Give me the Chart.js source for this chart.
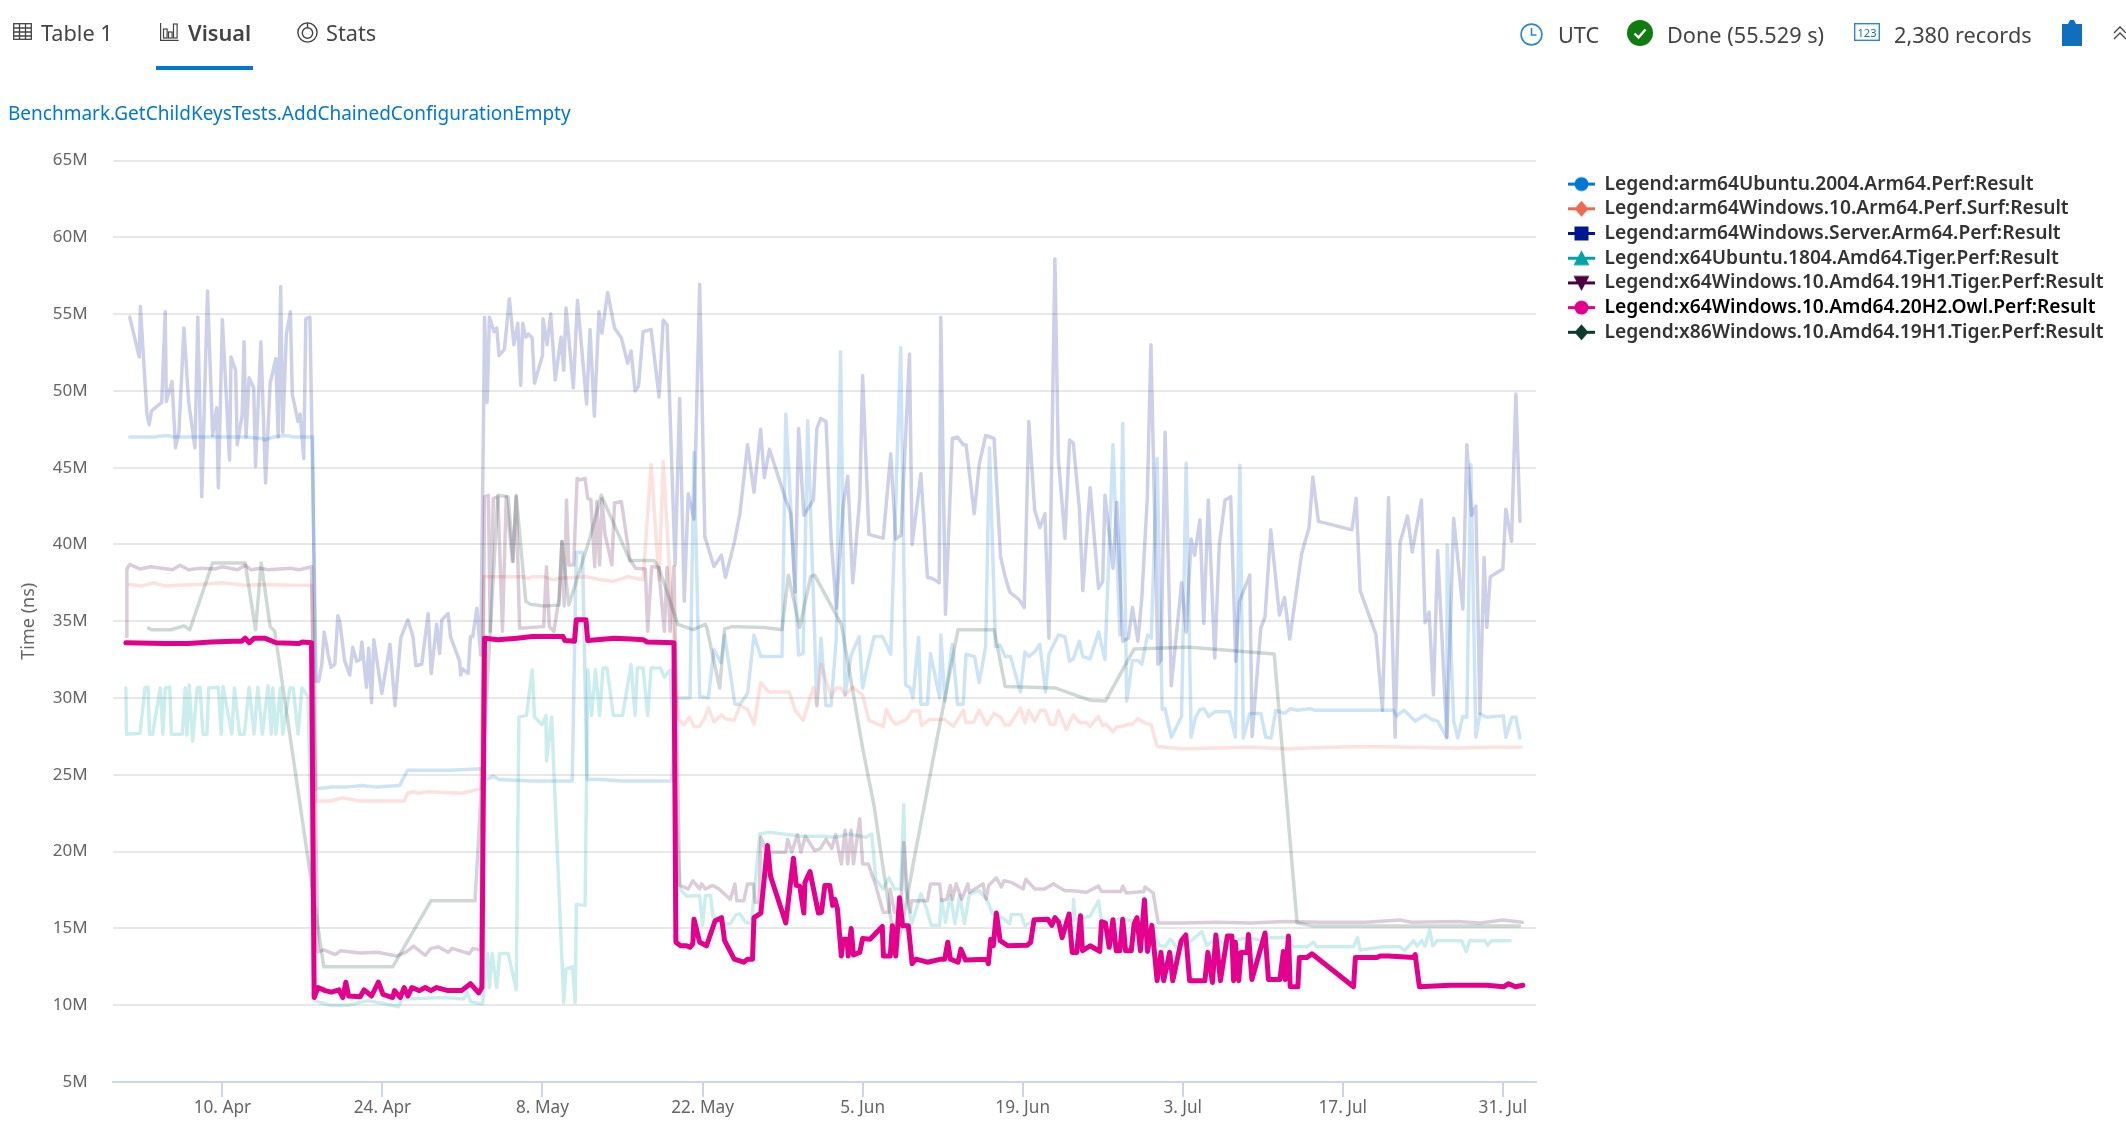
<!DOCTYPE html>
<html><head><meta charset="utf-8">
<script src="https://cdn.jsdelivr.net/npm/chart.js@4"></script>
<style>
html,body{margin:0;padding:0;background:#fff;overflow:hidden;width:2126px;height:1130px;font-family:"Noto Sans",sans-serif}
canvas#c{position:absolute;left:0;top:0}
.t{position:absolute;white-space:nowrap;line-height:1;color:#444;font-size:21.7px}
svg{position:absolute;overflow:visible}
</style></head><body>
<canvas id="c" width="2126" height="1130"></canvas>
<svg style="left:13px;top:23px" width="19" height="17" fill="none" stroke="#444" stroke-width="1.3"><rect x=".7" y=".7" width="17.6" height="15.6"/><path d="M.7 5h17.6M.7 9h17.6M.7 13h17.6M6.5 .7v15.6M12.5 .7v15.6"/></svg>
<div class="t" style="left:41px;top:22px">Table 1</div>
<svg style="left:160px;top:23px" width="19" height="18" fill="none" stroke="#444" stroke-width="1.2"><path d="M.6 0v17.4h18"/><rect x="3.5" y="6" width="3.6" height="9"/><rect x="8.5" y="9" width="3.6" height="6"/><rect x="13.5" y="1" width="3.6" height="14"/></svg>
<div class="t" style="left:188px;top:22px;font-weight:600">Visual</div>
<div style="position:absolute;left:156px;top:66px;width:97px;height:4px;background:#0078d4"></div>
<svg style="left:297px;top:22px" width="21" height="21" fill="none" stroke="#444" stroke-width="1.4"><circle cx="10.5" cy="10.5" r="9.6"/><circle cx="10.5" cy="11" r="5.2"/><path d="M10.5 1v4.5"/></svg>
<div class="t" style="left:326px;top:22px">Stats</div>
<svg style="left:1520px;top:23px" width="23" height="23" fill="none" stroke="#2b88d8" stroke-width="1.6"><circle cx="11.5" cy="11.5" r="10.4"/><path d="M11.5 5v7h5"/></svg>
<div class="t" style="left:1558px;top:24px">UTC</div>
<svg style="left:1627px;top:20px" width="26" height="26"><circle cx="13" cy="13" r="13" fill="#107c10"/><path d="M7.5 13.5l4 4 7-8" fill="none" stroke="#fff" stroke-width="2.4"/></svg>
<div class="t" style="left:1667px;top:24px">Done (55.529 s)</div>
<svg style="left:1854px;top:23px" width="26" height="18"><rect x=".7" y=".7" width="24.6" height="16.6" fill="none" stroke="#2b88d8" stroke-width="1.4"/><text x="13" y="13.5" text-anchor="middle" font-size="11" font-family="Noto Sans" fill="#106ebe">123</text></svg>
<div class="t" style="left:1894px;top:24px">2,380 records</div>
<svg style="left:2062px;top:20px" width="20" height="26"><path d="M0 4h6l2-4h4l2 4h6v22H0z" fill="#106ebe"/></svg>
<svg style="left:2114px;top:27px" width="14" height="14" fill="none" stroke="#444" stroke-width="1.3"><path d="M0 6l6-6 6 6M0 12l6-6 6 6"/></svg>
<div class="t" id="ttl" style="left:8px;top:104px;color:#0078d4;font-size:19px">Benchmark.GetChildKeysTests.AddChainedConfigurationEmpty</div>
<script>
// x = days after 10 Apr, y = time in millions of ns
const tickDays=[0,14,28,42,56,70,84,98,112];
const tickLabels=["10. Apr","24. Apr","8. May","22. May","5. Jun","19. Jun","3. Jul","17. Jul","31. Jul"];
const yTicksMin=5,yTicksMax=65,yStep=5;
const seriesNames=["Legend:arm64Ubuntu.2004.Arm64.Perf:Result","Legend:arm64Windows.10.Arm64.Perf.Surf:Result","Legend:arm64Windows.Server.Arm64.Perf:Result","Legend:x64Ubuntu.1804.Amd64.Tiger.Perf:Result","Legend:x64Windows.10.Amd64.19H1.Tiger.Perf:Result","Legend:x64Windows.10.Amd64.20H2.Owl.Perf:Result","Legend:x86Windows.10.Amd64.19H1.Tiger.Perf:Result"];
const seriesColors=["#0078d4","#ef6950","#00188f","#00a4a7","#4b003f","#e3008c","#0b3b2d"];
const markerShapes=["circle","diamond","square","triangle","triangleDown","circle","diamond"];
const arm64Ubuntu=[[-8.1,47],[-6,47],[-4.9,47.1],[-4.2,47],[-2,47],[0,47],[2,47],[3.5,46.9],[3.7,46.8],[4.5,47],[5.5,47.1],[6.3,47],[7.5,47],[7.9,47],[8.2,24.1],[9.5,24.2],[10.8,24.2],[12.2,24.3],[13.5,24.2],[15.5,24.3],[16.2,25.3],[18,25.3],[20,25.3],[22.6,25.4],[23.1,24.7],[23.7,24.9],[24.2,24.7],[27,24.6],[30.6,24.6],[30.96,39.5],[31.5,39.5],[31.9,24.7],[33,24.7],[35,24.6],[39.3,24.6],[39.7,30],[40.9,30],[41.25,46],[41.75,30.1],[42.5,30],[43,33.15],[43.6,32.3],[43.93,34.1],[44.83,29.6],[45.27,29.6],[45.94,30.3],[46.5,34.1],[47.1,32.7],[48.95,32.7],[49.28,48.5],[50.4,32.8],[50.8,32.9],[51.2,48.05],[52,29.5],[52.36,33.9],[52.8,29.5],[53.24,29.5],[53.7,33.9],[54.07,52.55],[54.47,30.2],[55,32.8],[55.7,34],[56,30.65],[56.55,32.55],[57,34],[57.75,34],[58.46,32.85],[59.33,52.8],[59.76,30.85],[60.17,30.65],[60.4,30],[60.9,33.95],[61.1,29.6],[61.67,29.6],[61.94,32.9],[62.74,30],[62.84,34.1],[63.2,29.8],[63.85,33.5],[64.3,29.6],[64.8,29.6],[65.05,32.85],[65.8,32.7],[66.2,31],[66.76,33.35],[67.1,46.3],[67.63,33.35],[68,33.45],[68.47,32.7],[68.94,32.7],[69.8,30.4],[70.2,33],[70.54,32.7],[71.05,33],[71.5,33.5],[72,30.4],[72.3,32.85],[73.12,34.1],[73.7,34],[74.1,32.4],[74.43,32.55],[74.96,33.7],[75.26,32.7],[75.9,32.55],[76.64,34.3],[77.2,32.5],[77.9,46.5],[78.5,34.1],[78.75,47.9],[79.1,29.8],[79.6,32.45],[80.08,32.45],[80.42,32.2],[80.92,34.1],[81.25,33.9],[81.76,45.6],[82.2,29.25],[82.46,29.3],[83,27.45],[83.9,28.8],[84.3,45.3],[84.74,27.45],[85.1,28.7],[85.5,29.25],[85.87,29.3],[86.28,28.8],[86.8,29.1],[88.1,29.1],[88.6,27.45],[89,45.15],[89.3,27.4],[89.86,29],[90.83,29],[91.26,27.45],[91.73,27.4],[92.14,29.2],[92.9,29],[93.4,29.3],[94,29.2],[95.14,29.3],[95.6,29.2],[102.43,29.2],[102.7,28.85],[103.36,29.2],[104.33,28.5],[105.2,28.9],[105.8,28.6],[106.3,28.5],[107.1,27.4],[107.13,39.97],[107.7,28.5],[108.06,27.4],[108.5,28.8],[108.85,28.75],[109.2,45.2],[109.64,27.45],[110,28.95],[110.6,28.75],[112.05,28.85],[112.26,27.45],[112.8,28.75],[113.14,28.75],[113.5,27.4]];
const arm64Win10=[[-8.1,37.4],[-7,37.3],[-6,37.5],[-5,37.3],[-4,37.35],[-2,37.4],[0,37.5],[2,37.35],[4,37.4],[6,37.35],[7.8,37.35],[8.2,23.3],[9.5,23.3],[10.5,23.5],[12,23.3],[13.5,23.3],[15.9,23.3],[16.2,23.8],[16.7,23.9],[17.1,23.8],[18,23.9],[21,23.8],[22.6,24.1],[22.86,37.9],[26.27,37.9],[26.8,37.8],[27.1,37.9],[28.1,37.9],[28.95,37.7],[29.45,37.8],[31.8,37.9],[33.15,37.7],[34.15,37.6],[35.5,37.9],[36.8,37.7],[37.5,45.2],[38.2,37.7],[38.56,45.4],[39.16,37.7],[39.9,28.65],[40.35,28.25],[40.85,28.75],[41.25,28.15],[41.75,28.15],[42.2,28.7],[42.5,29.35],[43,28.45],[43.66,28.9],[44,28.65],[44.77,28.55],[45.27,29.5],[45.94,29.25],[46.5,28.3],[47.08,31],[47.8,30.4],[49.6,30.4],[50.1,29.2],[50.8,28.55],[51.7,30.7],[52,29.5],[52.36,32.2],[53.24,30.1],[53.7,30.65],[54.1,30.65],[54.47,30.2],[55.14,30.7],[56,30.2],[56.55,28.55],[57.8,28.15],[58.06,29.25],[58.56,28.55],[58.9,28.3],[59.83,28.6],[60.33,29.15],[60.94,29.15],[61.17,28.2],[61.84,28.6],[63.18,28.6],[63.95,28.15],[64.8,29.2],[65.05,28.4],[65.7,28.4],[66.2,29.2],[66.86,28.25],[67.5,29],[68.07,28.75],[68.47,28.25],[68.87,28.25],[69.8,29.35],[70.2,28.4],[70.54,29.2],[71.05,28.5],[71.55,29.2],[71.95,29.2],[72.4,28.3],[72.82,28.3],[73.12,29.2],[73.82,27.95],[74.43,28.9],[74.96,28.4],[75.56,28.4],[75.9,28.15],[76.64,28.8],[77,28.2],[77.3,28.3],[77.9,27.8],[78.24,28.15],[78.75,28.15],[79.25,28.3],[79.6,28.3],[80.08,28.65],[80.6,28.4],[81.25,28.25],[81.76,26.85],[84,26.7],[87,26.75],[90,26.8],[93,26.7],[97,26.8],[100,26.85],[104,26.8],[108,26.75],[111,26.8],[113.6,26.8]];
const arm64Server=[[-8.1,54.8],[-7.27,52.2],[-7.17,55.5],[-6.6,48.5],[-6.4,47.8],[-6.2,48.7],[-5.3,49.25],[-5,55.15],[-4.9,49.3],[-4.4,50.6],[-4.1,46.3],[-3.8,47.3],[-3.36,54.1],[-2.95,49.3],[-2.4,46.3],[-2.15,54.8],[-1.8,43.1],[-1.3,56.5],[-0.85,47.1],[-0.5,48.9],[-0.35,43.7],[0,54.65],[0.63,45.5],[0.76,52.2],[1.16,51.35],[1.3,46.5],[1.73,48.4],[1.9,53.2],[2.07,47],[2.34,50.85],[2.74,50.2],[2.9,45.1],[3.37,53.2],[3.78,44],[4.18,50.5],[4.68,52.1],[4.88,47],[5.1,56.8],[5.28,47.3],[5.6,53.7],[5.95,55.15],[6.12,49.75],[6.62,48],[6.8,48.5],[7.12,45.6],[7.3,54.7],[7.66,54.8],[8.2,31.1],[8.43,31.1],[8.7,32.2],[8.9,34.3],[9.27,32.8],[9.5,32],[9.84,32.2],[10.1,35.35],[10.27,35],[10.7,32.4],[11.14,31.5],[11.4,33.3],[11.74,32.4],[12.05,32.5],[12.2,33.65],[12.6,30.7],[12.8,33.25],[13.05,29.7],[13.25,33.8],[13.95,30.3],[14.66,33.5],[15.1,29.5],[15.6,33.9],[16.23,35.1],[16.67,34],[16.93,32.1],[17.44,32.2],[18,35.5],[18.27,31.6],[18.74,34.8],[19,32.9],[19.2,35.1],[19.75,35.5],[19.95,34],[20.75,32.4],[20.85,31.5],[21,31.9],[21.5,31.6],[21.7,34],[21.9,34],[22.26,35.85],[22.6,32.8],[22.86,49.25],[22.93,54.8],[23.16,49.25],[23.36,54.8],[23.76,53.85],[24,54.1],[24.2,52.3],[24.67,52.7],[25.1,56],[25.5,53],[25.84,54.4],[26.1,50.35],[26.27,54.4],[26.54,53.5],[26.78,53.7],[27.1,53.45],[27.3,50.5],[28,52.3],[28.05,54.7],[28.4,53],[28.72,55],[29.12,50.7],[29.62,53.5],[29.86,51.35],[30.06,55.4],[30.7,50.2],[31.06,55.9],[31.86,49.15],[32.16,54],[32.54,48.35],[32.94,55.15],[33.2,53.75],[33.7,56.4],[34.3,54.1],[34.9,53.45],[35.45,51.8],[35.75,52.6],[36.1,50],[36.4,50.3],[36.8,53.85],[37.5,54],[38.2,49.6],[38.56,54.6],[38.9,54.3],[39.6,38.67],[40,49.5],[40.4,36.3],[40.75,43.3],[41.25,41.66],[41.75,56.95],[42.2,40.5],[43,38.56],[43.66,39.3],[44,37.85],[44.77,40.1],[45.27,42],[45.94,46.5],[46.5,43.4],[47.08,47.5],[47.4,44.35],[47.85,46.2],[49.2,43.1],[49.72,42],[50.1,36.9],[50.4,47.55],[50.86,41.9],[51.7,42.9],[52,47.55],[52.33,48.2],[52.8,48],[53.24,40.4],[53.7,35.85],[54.3,42.5],[54.7,44.45],[55.14,37.5],[55.75,43],[56,51],[56.55,40.66],[57.8,40.4],[58.46,45.9],[58.9,40.35],[59.36,40.6],[60.1,52.4],[60.33,40],[61.1,44.6],[61.67,37.85],[62.07,37.8],[62.7,37.5],[62.84,54.8],[63.25,35.45],[63.85,46.9],[64.3,47],[64.8,46.5],[65.05,46.5],[65.76,42],[66.2,45.2],[66.76,47.1],[67.5,46.9],[68.07,39.2],[68.47,37.9],[68.87,36.9],[69.7,36.4],[70.14,35.9],[70.54,48],[71.05,42.25],[71.5,41.1],[71.95,42],[72.3,33.9],[72.82,58.6],[73.12,45.6],[73.7,40.4],[74.1,46.8],[74.43,46.6],[74.96,42.35],[75.26,37],[75.9,43.7],[76.64,37.15],[77,37.6],[77.2,43.2],[77.9,38.45],[78.24,42.75],[78.75,33.7],[79.25,33.9],[79.6,35.9],[80.08,33.7],[80.42,36.5],[80.9,43],[81.22,53],[81.83,32.2],[82.1,32.5],[82.46,47.3],[83,30.8],[83.9,37.5],[84.3,34.3],[84.74,40.35],[85.04,39.3],[85.5,41.6],[85.84,34.85],[86.24,42.9],[86.8,32.6],[87.2,40],[87.7,42.9],[88.2,43.1],[88.64,32.4],[88.96,36.3],[89.86,38],[90.07,27.5],[90.83,34.55],[91.2,35.3],[91.7,40.95],[92.46,35.4],[92.9,36.55],[93.36,33.85],[94.4,39.4],[95.05,41.1],[95.38,44.4],[95.87,41.5],[98.8,40.95],[99.17,43],[99.52,37],[100.9,34.15],[101.47,29.2],[102,43.05],[102.58,27.45],[103,40.1],[103.66,41.85],[104.07,39.5],[104.88,42.9],[105.2,34.9],[105.55,35.6],[105.93,30.2],[106.3,39.6],[107.1,27.45],[107.7,41.7],[108.5,35.8],[108.85,46.5],[109.26,41.9],[109.64,42.5],[110,29],[110.36,39.15],[110.6,34.6],[110.9,37.9],[112,38.4],[112.26,42.3],[112.76,40.2],[113.14,49.8],[113.5,41.5]];
const x64Ubuntu=[[-8.44,30.65],[-8.38,27.65],[-7.2,27.7],[-6.77,30.65],[-6.5,30.7],[-6.37,27.65],[-6.1,27.65],[-5.43,30.65],[-5.2,27.65],[-5,30.65],[-4.6,30.7],[-4.46,27.65],[-3.5,27.65],[-3.25,30.65],[-3.1,27.6],[-2.9,30.85],[-2.6,27.2],[-2.2,30.65],[-1.95,30.7],[-1.7,27.65],[-1.35,27.65],[-1.2,30.65],[-0.35,30.7],[-0.1,27.65],[0.06,30.75],[0.83,27.65],[1.06,30.65],[1.5,27.65],[1.93,27.65],[2.34,30.7],[2.77,27.65],[3.1,30.7],[3.5,27.65],[4,30.8],[4.28,27.65],[4.41,30.65],[4.68,27.65],[5.08,30.65],[5.28,27.65],[5.92,30.65],[6.2,30.65],[6.62,27.65],[6.96,30.65],[7.5,30.1],[8.03,10.3],[9.37,10],[11.04,10],[12.7,10.3],[14.2,10.1],[15.4,9.9],[15.73,10.4],[19.4,10.5],[21.1,10.4],[21.42,10.8],[21.75,10.2],[22.76,10.1],[23.2,13.36],[23.36,11.15],[23.6,13.36],[24,11.15],[24.26,13.36],[25,13.36],[25.7,11],[25.94,28.76],[26.6,28.87],[27.1,31.84],[27.3,28.76],[27.95,28.27],[28.3,28.87],[28.35,25.9],[28.8,28.76],[29.86,10.17],[30.06,12.37],[30.63,12.5],[30.86,10.17],[30.96,16.55],[31.73,16.5],[31.96,31.84],[32.3,28.87],[32.64,31.84],[33,28.87],[33.3,31.95],[33.64,31.95],[34.2,28.87],[35,28.87],[35.75,32.17],[36.1,28.87],[36.3,31.95],[36.8,31.95],[37.2,28.87],[37.5,31.95],[38.33,31.95],[38.66,31.36],[39.16,31.84],[40,17.57],[40.6,17.1],[41.75,17.15],[42,15.2],[42.25,17.15],[42.7,17.15],[42.9,15.8],[43.93,15.3],[44.43,15.3],[44.93,15.9],[45.27,15.95],[45.77,15.4],[46.27,15.3],[47,21.15],[47.78,21.27],[49.6,21.1],[50.6,21],[51.46,21],[52.47,21],[53.64,20.94],[54.8,21.15],[56.3,20.94],[56.8,21.15],[57.15,18.2],[57.8,17.57],[58.3,18.3],[58.8,17.57],[59.33,17.57],[59.6,23.05],[59.76,17.57],[60.27,15.3],[60.5,15.8],[61.1,17.25],[61.5,16.5],[62,15.2],[62.74,15.2],[62.9,16.9],[63.25,15.4],[63.68,17.15],[64.08,15.3],[64.5,17.15],[64.9,15.3],[65.35,17.25],[66.2,17.45],[66.86,16.9],[67.36,15.95],[68.2,15.7],[68.87,15.3],[69,15.9],[69.87,15.9],[70.2,15.2],[71.05,15.5],[72.2,15.6],[72.9,15.5],[74.4,15.5],[74.45,16.9],[74.56,15.6],[75.9,15.8],[76.64,16.8],[76.9,15.4],[78.58,15.6],[80.6,15.4],[81.5,14.75],[81.93,13.9],[82.43,13.8],[82.93,14.3],[83.43,13.8],[84.27,13.9],[85.67,14.8],[86.1,13.9],[86.9,14.3],[87.95,13.9],[88.96,14.3],[89.8,14.4],[91,14.2],[91.65,14.4],[93.1,14.4],[93.7,13.8],[94.86,13.8],[95.44,14.1],[95.73,13.8],[98.94,13.8],[99.29,14.4],[99.52,13.6],[101.56,13.8],[103,13.8],[103.4,13.55],[104.2,14.2],[104.5,13.85],[104.92,14.2],[105.2,13.85],[105.6,14.9],[105.88,13.85],[106.23,14.2],[108.4,14.2],[108.8,13.5],[109.1,14.2],[110.46,14.2],[110.66,13.9],[111,14.2],[112.65,14.2]];
const x64Win19H1=[[-8.4,34],[-8.35,38.4],[-8.1,38.7],[-7.2,38.4],[-6.27,38.55],[-4.36,38.35],[-3.7,38.65],[-2.95,38.35],[-1.95,38.45],[-0.68,38.4],[0,38.55],[1.33,38.35],[2,38.65],[2.5,38.35],[3.34,38.45],[4,38.35],[5.95,38.45],[6.7,38.35],[7.8,38.55],[8.36,13.47],[8.87,13.6],[9.87,13.3],[10.37,13.55],[12.05,13.4],[13.55,13.45],[15.23,13.2],[16.06,13.45],[16.73,13.85],[17.74,13.25],[18.24,13.7],[18.9,13.8],[19.75,13.45],[20.1,13.7],[21.6,13.35],[21.92,13.7],[22.6,13.6],[22.93,43.1],[23.27,43.2],[23.43,34.35],[23.7,43],[24.1,43.1],[24.5,34.35],[24.83,43.1],[25.37,38.9],[25.7,43.1],[26,34.55],[28.1,34.65],[28.35,38.55],[28.6,34.65],[29,34.35],[29.45,36.5],[29.7,40.2],[29.9,36],[30.1,42.9],[30.3,38.67],[30.73,38.67],[31.03,44.3],[31.3,44.2],[31.73,44.3],[31.96,43],[32.23,42.9],[32.57,38.55],[32.74,42.8],[33,38.67],[33.2,43],[33.47,40.65],[34.07,38.67],[34.3,42.7],[34.9,42.8],[35.65,39],[36.15,38.45],[37,38.4],[37.2,34.35],[37.55,38.55],[38.15,38.5],[38.66,34.35],[38.9,38.5],[39.16,34.35],[39.5,38.55],[40,17.8],[40.75,17.57],[41.15,18.1],[41.75,17.57],[41.92,17.9],[42.25,17.57],[42.9,17.8],[43.43,17.57],[44.43,16.9],[44.83,17.9],[45,16.8],[45.6,16.8],[45.94,17.9],[46.44,17.9],[46.6,16.7],[46.94,16.7],[47.1,20.94],[47.6,19.96],[49.28,19.96],[49.45,20.8],[49.8,19.96],[50.3,21.1],[50.6,19.96],[51,21],[51.8,20.07],[52.3,20.2],[52.8,20.8],[53.3,20.2],[53.64,21.1],[54.14,19.2],[54.47,21.4],[54.7,19.2],[55,21.4],[55.2,19.2],[55.75,22.14],[56,19.2],[56.5,19.2],[57.15,17.8],[57.8,16.05],[58.3,16.05],[58.4,17.57],[58.8,16.05],[59.33,16.05],[59.6,20.6],[59.9,17.35],[60.17,16.05],[60.27,16.8],[61.67,16.8],[61.94,17.9],[62.74,17.9],[62.9,16.8],[63.35,16.9],[63.68,17.8],[63.85,16.9],[64.18,17.9],[64.68,16.9],[65.2,17.9],[65.35,17.35],[66.53,17.9],[66.8,16.9],[67.03,17.8],[67.7,18.3],[68.13,17.7],[68.37,18.1],[69,18],[70.04,17.57],[70.28,18.2],[71.05,17.57],[71.9,17.57],[72.7,17.9],[73.7,17.45],[74.4,17.45],[75.56,17.35],[76.64,17.75],[76.9,17.4],[78.58,17.4],[78.75,17.75],[79.08,17.3],[80.6,17.4],[80.7,17.7],[81.42,17.3],[81.86,15.35],[84,15.35],[87,15.4],[90,15.35],[93,15.45],[96,15.4],[100,15.4],[103,15.55],[104,15.4],[108,15.45],[110,15.35],[112,15.55],[113.7,15.4]];
const x64WinOwl=[[-8.44,33.6],[-5,33.55],[-3,33.55],[-1,33.65],[1,33.7],[1.7,33.7],[2,33.9],[2.34,33.6],[2.8,33.9],[3.7,33.9],[4.7,33.6],[6.7,33.55],[7,33.65],[7.8,33.6],[8.03,10.5],[8.36,11.15],[9,10.95],[9.54,10.85],[10.2,11],[10.54,10.5],[10.8,11.5],[11.04,10.6],[12.05,10.55],[12.4,11],[13.05,10.6],[13.65,11.5],[14.05,10.7],[14.9,10.5],[15.06,10.95],[15.56,10.5],[15.9,11.15],[16.23,10.6],[16.57,11.15],[17.24,10.95],[17.74,11.15],[18.24,10.95],[18.74,11.15],[19.75,10.95],[20.92,10.95],[21.7,11.4],[22.42,10.8],[22.7,11.15],[22.93,33.9],[24.1,33.8],[25.77,33.9],[27.1,34],[29.8,34],[29.95,33.75],[30.8,33.7],[30.96,35.1],[31.8,35.1],[31.96,33.75],[34.3,33.9],[35.8,33.85],[36.8,33.8],[37.15,33.65],[39.5,33.6],[39.67,14.1],[40.08,13.87],[40.6,13.87],[40.9,13.77],[41.15,14],[41.25,15.6],[41.75,14.1],[42.35,13.87],[43.1,15.5],[43.66,15.7],[43.93,14.2],[44.77,13],[45.6,12.8],[45.94,13],[46.37,13],[46.5,15.7],[47.1,16],[47.68,20.4],[47.95,18.4],[49.28,15.35],[49.95,19.57],[50.2,17.8],[50.5,17.75],[50.86,16],[50.96,18],[51.4,18.7],[52.13,16],[52.4,16.05],[52.7,17.8],[53.13,17.8],[53.37,16.5],[53.57,16.9],[53.8,16.27],[54.14,13.2],[54.3,14.3],[54.64,14.3],[54.74,13.2],[55,15],[55.2,13.27],[55.75,13.44],[56,14.35],[56.65,14.3],[57.72,15.13],[57.82,13.2],[58.42,13.2],[58.6,15.18],[58.9,13.2],[59.23,17],[59.5,15.18],[60,15.18],[60.33,12.7],[60.67,13],[61.67,12.8],[62.84,13],[63.18,13],[63.45,14.1],[63.68,13],[64.35,12.8],[64.6,13.65],[65,12.95],[66.86,13],[67,12.7],[67.2,14.3],[67.43,13.87],[67.7,16],[68.03,14.2],[68.7,13.87],[70.38,13.9],[70.7,14.1],[71,15.57],[72.2,15.6],[72.55,15.2],[72.82,15.7],[73.15,15.4],[73.45,14.4],[74.06,15.94],[74.33,13.44],[74.73,13.44],[75.06,15.83],[75.23,13.55],[75.9,13.87],[76.74,13.5],[76.9,15.44],[77.24,15.35],[77.57,13.77],[77.9,15.57],[78.18,13.55],[78.5,13.55],[78.75,15.6],[79,13.55],[79.5,13.55],[79.75,15.3],[80,15.7],[80.3,13.55],[80.65,16.87],[80.92,13.5],[81.3,15.2],[81.76,11.6],[82.1,13.44],[82.33,11.6],[82.86,13.44],[83.13,11.6],[83.87,14.2],[84.27,14.57],[84.6,11.6],[85.6,11.6],[85.94,11.6],[86.2,13.44],[86.6,11.48],[86.9,14.57],[87.3,11.6],[87.9,14.5],[88.3,14.5],[88.45,11.6],[88.6,14.1],[88.9,11.6],[89.1,13.44],[89.63,13.44],[89.75,14.6],[90.05,11.67],[91.2,14.7],[91.5,11.67],[92.5,11.67],[92.8,13.5],[92.96,11.67],[93.25,14.5],[93.4,11.2],[94.07,11.2],[94.2,13.1],[94.86,13.1],[95.3,13.35],[98.94,11.2],[99.1,13.1],[100.98,13.1],[101.27,13.2],[102,13.2],[104.2,13.1],[104.33,13.3],[104.7,11.2],[107.4,11.3],[110.6,11.3],[112.06,11.2],[112.5,11.4],[113.1,11.2],[113.75,11.3]];
const x86Win19H1=[[-6.47,34.55],[-6.2,34.45],[-4.5,34.45],[-3.36,34.7],[-2.85,34.45],[-0.85,38.8],[2,38.8],[2.9,34.45],[3.4,38.8],[4.18,34.65],[4.58,34.35],[8.87,12.5],[12.4,12.5],[14.9,12.5],[18.24,16.8],[22.1,16.8],[23.43,34.35],[24.1,43.2],[25,43.1],[25.44,38.9],[25.7,43.2],[26.54,36.3],[26.94,36.1],[28.1,36],[29.45,36.05],[29.7,40.2],[30.3,36.05],[32.14,40.4],[33.14,43.2],[35.65,38.95],[37.76,38.95],[38.15,38.55],[39.84,34.8],[41.17,34.45],[42.25,34.8],[42.4,34.5],[43.5,30.65],[43.93,34.5],[44.6,34.65],[47.44,34.6],[48.95,34.45],[49.5,38],[50.5,34.6],[51.46,37.9],[51.8,38],[54.14,34.8],[56,26.75],[57,23],[57.8,18.9],[58.6,14.96],[59,13.66],[59.66,16],[60.5,19.5],[61.5,23.4],[62.34,26.7],[64.35,34.45],[67.5,34.45],[68.47,30.75],[72.9,30.65],[75.9,29.85],[77.24,29.8],[79.75,33.2],[84.27,33.3],[84.65,33.3],[92,32.87],[94,15.37],[95.44,15.15],[113.46,15.15]];
const allSeries=[arm64Ubuntu,arm64Win10,arm64Server,x64Ubuntu,x64Win19H1,x64WinOwl,x86Win19H1];
const highlighted=5;
function hexA(h,a){const n=parseInt(h.slice(1),16);return `rgba(${n>>16},${(n>>8)&255},${n&255},${a})`;}
function legendIcon(color,shape){
  const c=document.createElement('canvas');c.width=27;c.height=19;const g=c.getContext('2d');
  g.strokeStyle=color;g.fillStyle=color;g.lineWidth=3;g.beginPath();g.moveTo(0,9.5);g.lineTo(27,9.5);g.stroke();
  g.beginPath();const x=13.5,y=9.5,r=7;
  if(shape==='circle')g.arc(x,y,r,0,7);
  else if(shape==='diamond'){g.moveTo(x,y-r-1);g.lineTo(x+r,y);g.lineTo(x,y+r+1);g.lineTo(x-r,y);}
  else if(shape==='square')g.rect(x-r,y-r,2*r,2*r);
  else if(shape==='triangle'){g.moveTo(x,y-r-1);g.lineTo(x+r+1,y+r);g.lineTo(x-r-1,y+r);}
  else{g.moveTo(x,y+r+1);g.lineTo(x+r+1,y-r);g.lineTo(x-r-1,y-r);}
  g.closePath();g.fill();return c;
}
const icons=seriesColors.map((c,i)=>legendIcon(c,markerShapes[i]));
const legendShift={id:'legendShift',afterLayout(ch){const l=ch.legend;l.left=ch.chartArea.right+26.5;l.right=ch.width;l.width=l.right-l.left;l.top=169;}};
new Chart(document.getElementById('c'),{
  type:'line',
  data:{datasets:allSeries.map((d,i)=>({label:seriesNames[i],data:d,borderColor:i===highlighted?seriesColors[i]:hexA(seriesColors[i],0.2),backgroundColor:seriesColors[i],borderWidth:i===highlighted?5:3.5,pointRadius:0,tension:0,borderJoinStyle:'round',borderCapStyle:'round',order:i===highlighted?0:7-i}))},
  plugins:[legendShift],
  options:{
    responsive:false,animation:false,devicePixelRatio:1,
    layout:{padding:{top:160.5,left:0,right:78,bottom:0}},
    plugins:{
      title:{display:false},tooltip:{enabled:false},
      legend:{display:true,position:'right',align:'start',fullSize:false,
        labels:{usePointStyle:true,pointStyleWidth:27,boxHeight:18,padding:5.5,font:{family:'"Noto Sans"',size:19.2,weight:'600'},
          generateLabels:ch=>seriesNames.map((n,i)=>({text:n,pointStyle:icons[i],datasetIndex:i,fontColor:i===highlighted?'#000':'#333',fillStyle:seriesColors[i],strokeStyle:seriesColors[i],lineWidth:0,hidden:false}))}}
    },
    scales:{
      x:{type:'linear',min:-9.6,max:114.9,
        afterBuildTicks:a=>{a.ticks=tickDays.map(v=>({value:v}));},
        afterFit:s=>{s.height=48;},
        border:{color:'#ccd6eb',width:2},
        grid:{drawOnChartArea:false,drawTicks:true,tickLength:15,color:'#ccd6eb',lineWidth:2},
        ticks:{autoSkip:false,maxRotation:0,padding:1,color:'#666',font:{family:'"Noto Sans"',size:17.2},callback:(v,i)=>tickLabels[i]}},
      y:{type:'linear',min:yTicksMin,max:yTicksMax,
        afterFit:s=>{s.width=112.6;},
        border:{display:false},
        grid:{color:'#e8e8e8',lineWidth:2,drawTicks:false},
        title:{display:true,text:'Time (ns)',color:'#666',padding:{top:18,bottom:0},font:{family:'"Noto Sans"',size:18}},
        ticks:{stepSize:yStep,padding:25,color:'#666',font:{family:'"Noto Sans"',size:17},callback:v=>v+'M'}}
    }
  }
});
</script>
</body></html>
